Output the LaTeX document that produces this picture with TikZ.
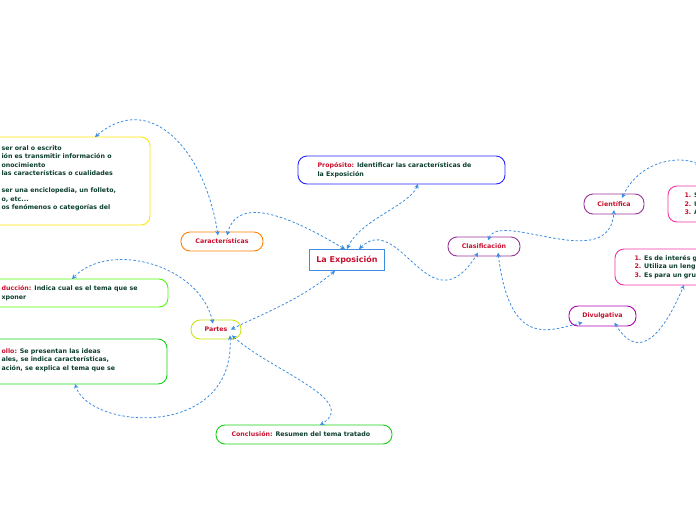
\documentclass[tikz,border=0pt]{standalone}
\usepackage{fontspec}
\setmainfont{DejaVu Sans}
\usetikzlibrary{arrows.meta}
\definecolor{tx}{HTML}{0B3D2E}
\definecolor{rd}{HTML}{C8102E}
\definecolor{ln}{HTML}{3D8EE0}
\tikzset{x=1pt,y=-1pt,
 box/.style={draw,rounded corners=9pt,line width=0.9pt,inner sep=0},
 lbl/.style={font=\bfseries\fontsize{6.3}{8.5}\selectfont,text=rd},
 txt/.style={font=\bfseries\fontsize{6.3}{8.5}\selectfont,text=tx,align=left,anchor=west},
 con/.style={draw=ln,dash pattern=on 2.5pt off 2pt,line width=0.8pt,{Stealth[length=4.5pt,width=4.5pt]}-{Stealth[length=4.5pt,width=4.5pt]}}}
\begin{document}
\begin{tikzpicture}
\useasboundingbox (0,0) rectangle (696,520);
\clip (0,0) rectangle (696,520);
% main
\node[draw=ln,line width=0.9pt,minimum width=75pt,minimum height=21pt,font=\bfseries\fontsize{8}{9}\selectfont,text=rd] (m) at (347,260) {La Exposición};
\draw[box,draw=blue!85] (298,156) rectangle (505,184);
\coordinate (p) at (418,184);
\node[txt] at (314,170) {\textcolor{rd}{Propósito:} Identificar las características de\\la Exposición};
\draw[box,draw=orange] (181,232) rectangle (263,251);
\node[lbl] (c) at (222,241.5) {Características};
\draw[box,draw=yellow!90!orange] (-20,137) rectangle (150,225);
\coordinate (ct) at (95,137);
\node[txt,anchor=north west] at (-2,142) {ser oral o escrito\\ión es transmitir información o\\onocimiento\\ las características o cualidades\\ \\ser una enciclopedia, un folleto,\\o, etc...\\os fenómenos o categorías del};
\draw[box,draw=yellow!80!green] (191,320) rectangle (241,339);
\node[lbl] (pa) at (216,329.5) {Partes};
\draw[box,draw=green!70!yellow] (-20,279) rectangle (168,307);
\coordinate (it) at (72,279);
\node[txt] at (-2,293) {\textcolor{rd}{ducción:} Indica cual es el tema que se\\xponer};
\draw[box,draw=green!80!black!90] (-20,339) rectangle (167,384);
\coordinate (dt) at (75,384);
\node[txt,anchor=north west] at (-2,345) {\textcolor{rd}{ollo:} Se presentan las ideas\\ales, se indica características,\\ación, se explica el tema que se};
\draw[box,draw=green!80!black!90] (216,425) rectangle (392,444);
\coordinate (co) at (320,425);
\node[txt] at (228,434.5) {\textcolor{rd}{Conclusión:} Resumen del tema tratado};
\draw[box,draw=violet!80] (448,237) rectangle (520,256);
\node[lbl] (cl) at (484,246.5) {Clasificación};
\draw[box,draw=violet!80] (584,194) rectangle (644,214);
\node[lbl] (ci) at (614,204) {Científica};
\draw[box,draw=magenta!80] (668,186) rectangle (760,222);
\node[txt] at (681,204) {\textcolor{rd}{1.} S\\\textcolor{rd}{2.} U\\\textcolor{rd}{3.} A};
\draw[box,draw=magenta!80] (615,249) rectangle (760,285);
\coordinate (mb) at (684,285);
\node[txt] at (631,267) {\textcolor{rd}{1.} Es de interés g\\\textcolor{rd}{2.} Utiliza un leng\\\textcolor{rd}{3.} Es para un gru};
\draw[box,draw=violet!60!magenta] (569,306) rectangle (636,326);
\node[lbl] (dv) at (602.5,316) {Divulgativa};
\coordinate (off) at (700,165);
% connectors
\draw[con] (m.north) .. controls (360,220) and (410,205) .. (p);
\draw[con] ([xshift=-2pt]m.north) .. controls (320,235) and (240,185) .. ([xshift=5pt]c.north);
\draw[con] ([xshift=-4pt]c.north) .. controls (205,150) and (150,90) .. (ct);
\draw[con] ([xshift=-12pt]m.south) .. controls (300,300) and (260,315) .. (pa.east);
\draw[con] ([xshift=-3pt]pa.north) .. controls (200,265) and (110,240) .. (it);
\draw[con] ([xshift=14pt]pa.south) .. controls (235,440) and (90,430) .. (dt);
\draw[con] ([xshift=16pt]pa.south) .. controls (270,370) and (360,400) .. (co);
\draw[con] ([xshift=12pt]m.north) .. controls (400,210) and (430,330) .. ([xshift=-6pt]cl.south);
\draw[con] ([xshift=4pt]cl.north) .. controls (500,210) and (610,275) .. (ci.south);
\draw[con] ([xshift=8pt]ci.north) .. controls (640,160) and (680,155) .. (off);
\draw[con] ([xshift=14pt]cl.south) .. controls (510,350) and (550,330) .. ([xshift=-20pt]dv.south);
\draw[con] ([xshift=12pt]dv.south) .. controls (640,365) and (665,330) .. (mb);
\end{tikzpicture}
\end{document}
